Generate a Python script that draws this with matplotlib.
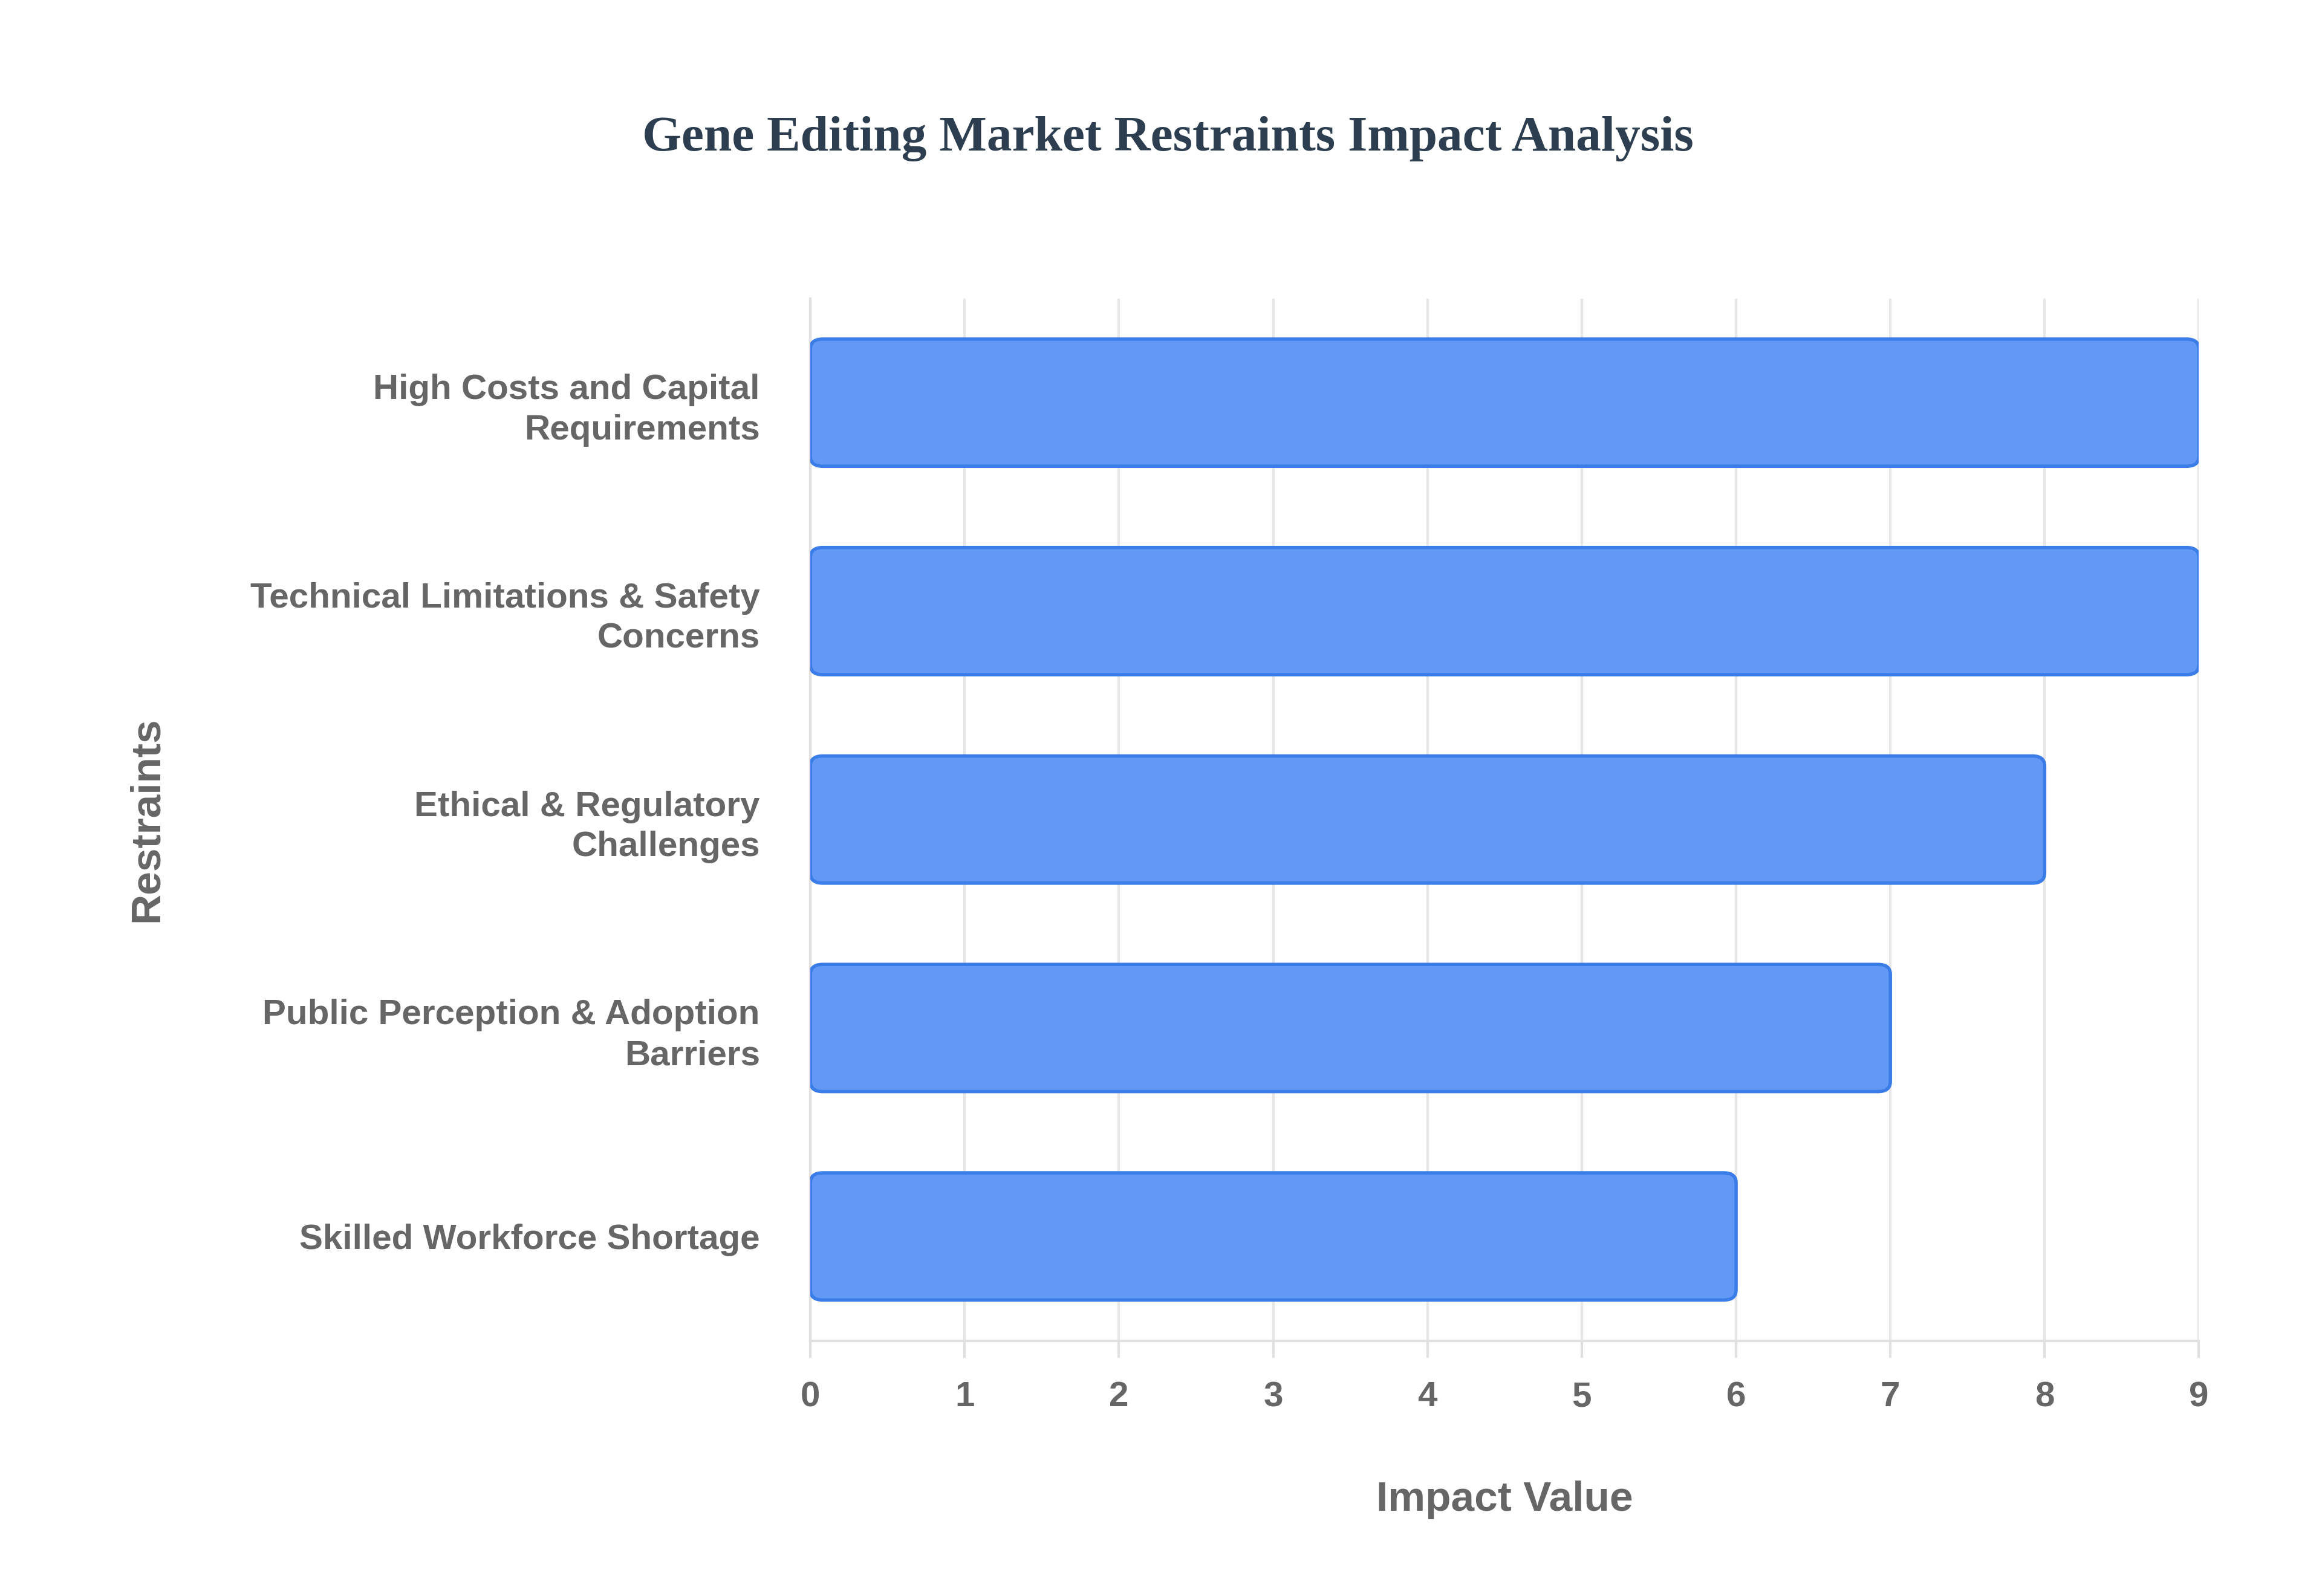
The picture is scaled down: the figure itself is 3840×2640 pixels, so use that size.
import matplotlib
matplotlib.use("Agg")
import matplotlib.pyplot as plt
from matplotlib.patches import FancyBboxPatch

categories = ["High Costs and Capital\nRequirements",
              "Technical Limitations & Safety\nConcerns",
              "Ethical & Regulatory\nChallenges",
              "Public Perception & Adoption\nBarriers",
              "Skilled Workforce Shortage"]
values = [9, 9, 8, 7, 6]
xticks = list(range(0, 10))

fig = plt.figure(figsize=(19.2, 13.2), dpi=200)
ax = fig.add_axes([0.349, 0.16, 0.598, 0.653])
n = len(categories)
ypos = [n - 1 - i for i in range(n)]
h = 0.61
for y, v in zip(ypos, values):
    ax.add_patch(FancyBboxPatch((0, y - h / 2), v, h,
                                boxstyle="round,pad=0,rounding_size=0.08",
                                mutation_aspect=0.6,
                                facecolor="#6399f5", edgecolor="#3b7de8", linewidth=2, zorder=3))
ax.set_xlim(0, 9)
ax.set_ylim(-0.5, n - 0.5)
ax.set_yticks(ypos)
ax.set_yticklabels(categories, fontfamily="Liberation Sans", fontweight="bold",
                   fontsize=21, color="#666666", linespacing=1.3)
ax.set_xticks(xticks)
ax.set_xticklabels([str(t) for t in xticks], fontfamily="Liberation Sans",
                   fontweight="bold", fontsize=21, color="#666666")
ax.tick_params(axis="y", length=0, pad=30)
ax.tick_params(axis="x", length=10, color="#e0e0e0", width=1.5, pad=14)
ax.grid(axis="x", color="#e6e6e6", linewidth=1.5, zorder=0)
for s in ["top", "right"]:
    ax.spines[s].set_visible(False)
for s in ["left", "bottom"]:
    ax.spines[s].set_color("#e0e0e0")
    ax.spines[s].set_linewidth(1.5)
ax.set_xlabel("Impact Value", fontfamily="Liberation Sans", fontweight="bold",
              fontsize=25, color="#666666", labelpad=40)
ax.set_ylabel("Restraints", fontfamily="Liberation Sans", fontweight="bold",
              fontsize=25, color="#666666", labelpad=50)
fig.text(0.503, 0.913, "Gene Editing Market Restraints Impact Analysis",
         ha="center", va="center", fontfamily="Liberation Serif",
         fontweight="bold", fontsize=30, color="#2c3e50")
fig.savefig("out.png", dpi=200, facecolor="white")
